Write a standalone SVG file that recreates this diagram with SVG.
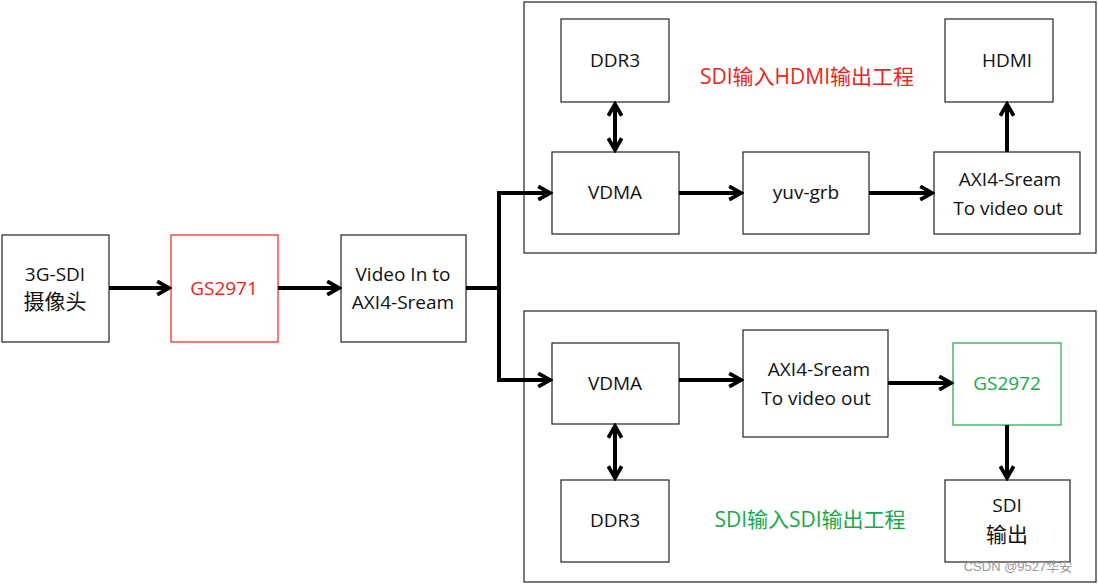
<svg xmlns="http://www.w3.org/2000/svg" width="1098" height="584" viewBox="0 0 1098 584">
<style>
.b{fill:#fff;stroke:#222;stroke-width:1.2}
.t{font-family:"Open Sans","Noto Sans CJK SC",sans-serif;font-size:19px;fill:#111;text-anchor:middle}
.c{fill:none;stroke:#000;stroke-width:4}
</style>
<defs>
<marker id="a" viewBox="0 0 10 10" refX="8" refY="5" markerWidth="4.2" markerHeight="4.2" orient="auto-start-reverse"><path d="M1,1 L8,5 L1,9" fill="none" stroke="#000" stroke-width="2.2"/></marker>
</defs>
<rect width="1098" height="584" fill="#fff"/>
<g id="top-container"><rect class="b" x="524" y="2" width="572" height="251"/><text class="t" x="807" y="84" style="fill:#e8261c;font-size:21px">SDI输入HDMI输出工程</text></g>
<g id="bottom-container"><rect class="b" x="524" y="311" width="572" height="271"/><text class="t" x="810" y="527" style="fill:#1aa84a;font-size:21px">SDI输入SDI输出工程</text></g>
<g id="cam"><rect class="b" x="2" y="235" width="107" height="107"/><text class="t" x="55" y="281">3G-SDI</text><text class="t" x="55" y="309" style="font-size:21px">摄像头</text></g>
<g id="gs2971"><rect class="b" x="171" y="235" width="107" height="107" style="stroke:#e8261c"/><text class="t" x="224" y="295" style="fill:#e8261c">GS2971</text></g>
<g id="videoin"><rect class="b" x="341" y="235" width="125" height="107"/><text class="t" x="403" y="281">Video In to</text><text class="t" x="403" y="309">AXI4-Sream</text></g>
<g id="ddr3a"><rect class="b" x="561" y="19" width="108" height="83"/><text class="t" x="615" y="67">DDR3</text></g>
<g id="hdmi"><rect class="b" x="945" y="19" width="108" height="83"/><text class="t" x="1007" y="67">HDMI</text></g>
<g id="vdmaa"><rect class="b" x="552" y="152" width="127" height="82"/><text class="t" x="615" y="199">VDMA</text></g>
<g id="yuv"><rect class="b" x="743" y="152" width="126" height="82"/><text class="t" x="806" y="199">yuv-grb</text></g>
<g id="axia"><rect class="b" x="934" y="152" width="146" height="82"/><text class="t" x="1010" y="186">AXI4-Sream</text><text class="t" x="1008" y="215">To video out</text></g>
<g id="vdmab"><rect class="b" x="552" y="343" width="127" height="81"/><text class="t" x="615" y="390">VDMA</text></g>
<g id="axib"><rect class="b" x="743" y="330" width="145" height="107"/><text class="t" x="819" y="376">AXI4-Sream</text><text class="t" x="816" y="405">To video out</text></g>
<g id="gs2972"><rect class="b" x="953" y="343" width="108" height="82" style="stroke:#1aa84a"/><text class="t" x="1007" y="390" style="fill:#1aa84a">GS2972</text></g>
<g id="ddr3b"><rect class="b" x="561" y="480" width="108" height="82"/><text class="t" x="615" y="527">DDR3</text></g>
<g id="sdiout"><rect class="b" x="945" y="480" width="125" height="82"/><text class="t" x="1007" y="512">SDI</text><text class="t" x="1007" y="542" style="font-size:21px">输出</text></g>
<g id="connectors">
<path class="c" marker-end="url(#a)" d="M109,288 H169"/>
<path class="c" marker-end="url(#a)" d="M278,288 H339"/>
<path class="c" d="M466,288 H499"/>
<path class="c" marker-end="url(#a)" d="M499,288 V193 H550"/>
<path class="c" marker-end="url(#a)" d="M499,288 V380 H550"/>
<path class="c" marker-start="url(#a)" marker-end="url(#a)" d="M615,104 V150"/>
<path class="c" marker-start="url(#a)" marker-end="url(#a)" d="M615,426 V478"/>
<path class="c" marker-end="url(#a)" d="M679,193 H741"/>
<path class="c" marker-end="url(#a)" d="M869,193 H932"/>
<path class="c" marker-end="url(#a)" d="M1007,152 V104"/>
<path class="c" marker-end="url(#a)" d="M679,380 H741"/>
<path class="c" marker-end="url(#a)" d="M888,383 H951"/>
<path class="c" marker-end="url(#a)" d="M1007,425 V478"/>
</g>
<text x="1018" y="571" style="font-family:'Liberation Sans','Noto Sans CJK SC',sans-serif;font-size:13px;fill:#999;text-anchor:middle">CSDN @9527华安</text>
</svg>
